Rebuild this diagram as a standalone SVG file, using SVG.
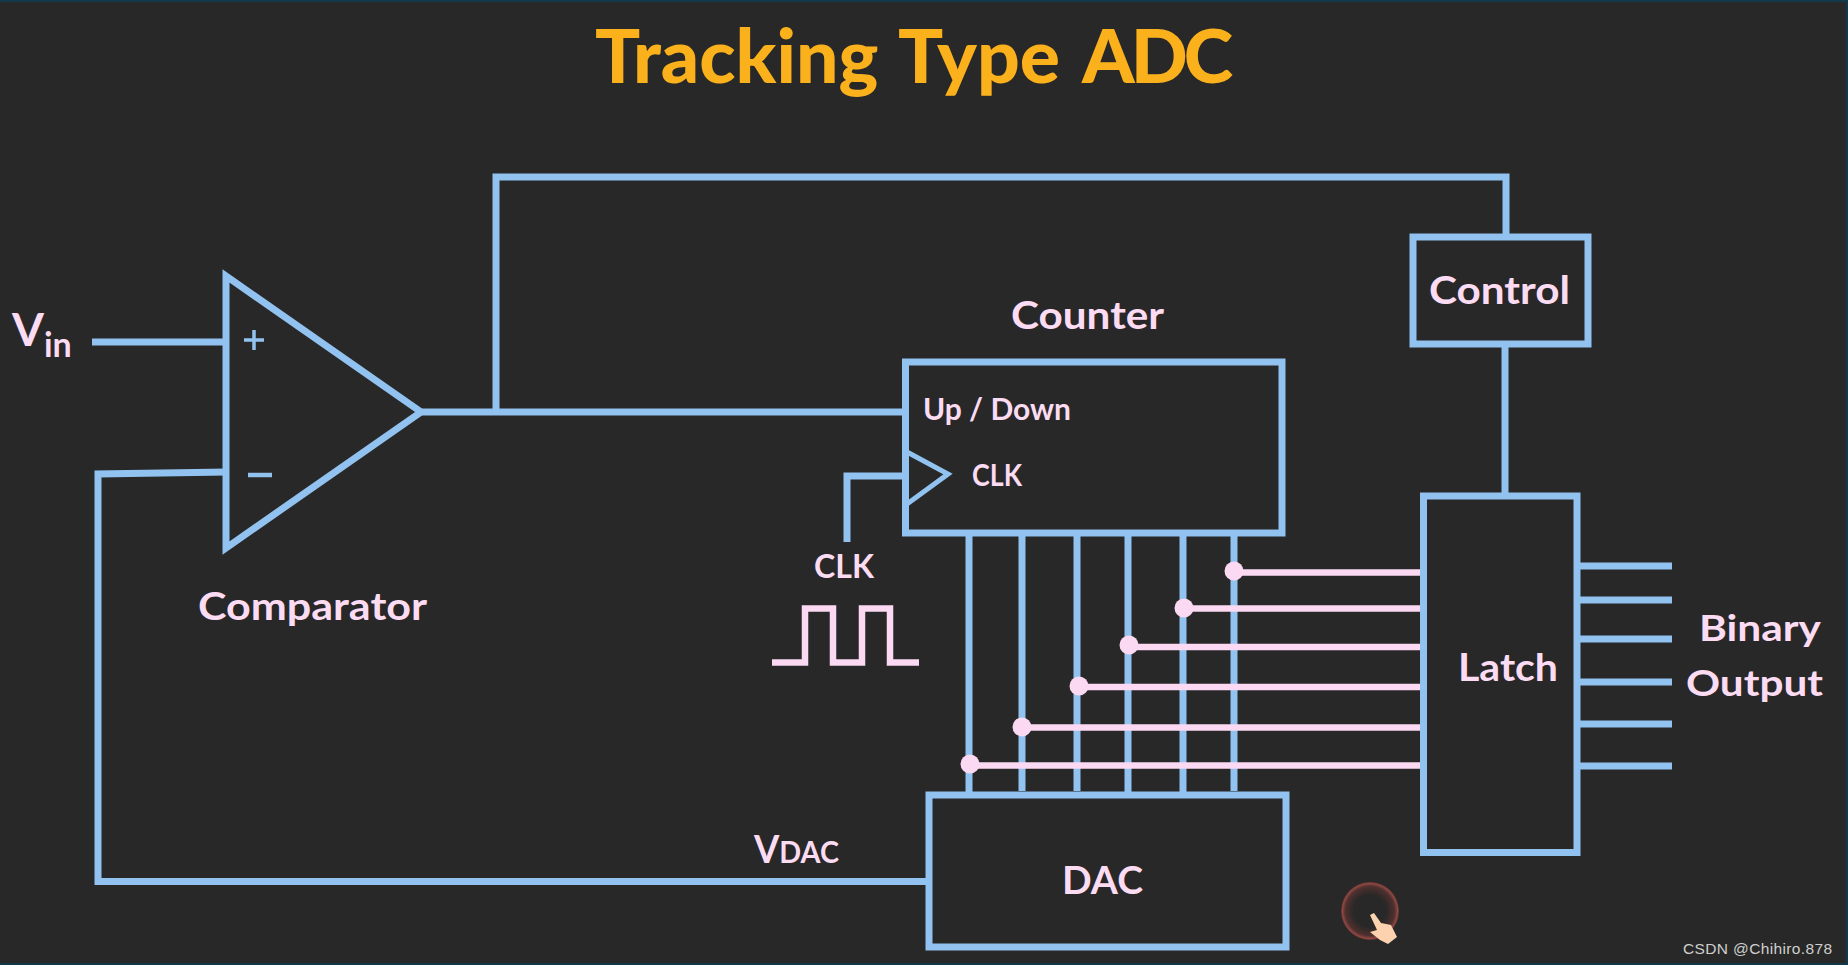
<svg xmlns="http://www.w3.org/2000/svg" width="1848" height="965" viewBox="0 0 1848 965">
<defs>
<radialGradient id="ring"><stop offset="0.55" stop-color="#a33a34" stop-opacity="0"/><stop offset="0.85" stop-color="#a8453e" stop-opacity="0.3"/><stop offset="0.95" stop-color="#a8504a" stop-opacity="0.8"/><stop offset="1" stop-color="#a8453e" stop-opacity="0.4"/></radialGradient>
</defs>
<style>
.w{fill:none;stroke:#92c2ef;stroke-width:7;stroke-linejoin:miter}
.t{fill:none;stroke:#92c2ef;stroke-width:5}
.p{fill:none;stroke:#fbd9f2;stroke-width:6.500}
.d{fill:#fbd9f2}
text{font-family:Lato,"Open Sans","Liberation Sans",sans-serif;font-weight:700;fill:#fbdcf2}
</style>
<rect width="1848" height="965" fill="#282828"/>
<path d="M0 1H1848M1847 0V965M0 964H1848" fill="none" stroke="#12394a" stroke-width="2"/>
<text id="title" y="83" font-size="75" style="fill:#fbb11c;font-weight:900"><tspan x="595">Tracking </tspan><tspan x="898">Type </tspan><tspan x="1082" letter-spacing="-4">ADC</tspan></text>
<g id="connectors">
<path class="w" d="M92 342H227"/>
<path class="w" d="M227 472L98 474V881.500H929"/>
<path class="w" d="M422 412H905"/>
<path class="w" d="M496 412V177H1506V237"/>
<path class="w" d="M1505 344V496"/>
<path class="w" d="M847 542V476H905"/>
<path class="w" d="M969 533V796M1022 533V791M1077 533V791M1128 533V796M1183 533V796M1234 533V791"/>
<path class="w" d="M1577 566H1672M1577 600H1672M1577 639H1672M1577 682H1672M1577 724H1672M1577 766H1672"/>
<path class="p" d="M1234 572.500H1423M1184 608.500H1423M1129 647H1423M1078 687H1423M1022 727.500H1423M970 765.500H1423"/>
<circle class="d" cx="1234" cy="571" r="9.500"/>
<circle class="d" cx="1184" cy="608" r="9.500"/>
<circle class="d" cx="1129" cy="645" r="9.500"/>
<circle class="d" cx="1079" cy="686" r="9.500"/>
<circle class="d" cx="1022" cy="727" r="9.500"/>
<circle class="d" cx="970" cy="764" r="9.500"/>
</g>
<g id="comparator">
<path class="w" d="M226 276V548L421 412Z"/>
<path d="M244 340H264M254 330V350" fill="none" stroke="#92c2ef" stroke-width="3.500"/>
<path d="M248 475H272" fill="none" stroke="#92c2ef" stroke-width="4.500"/>
<text x="198" y="620" font-size="38" textLength="229" lengthAdjust="spacingAndGlyphs">Comparator</text>
</g>
<g id="vin"><text x="12" y="346" font-size="46">V<tspan font-size="34" dy="11">in</tspan></text></g>
<g id="counter">
<rect class="w" x="905.500" y="362" width="376.500" height="171"/>
<path class="t" d="M907 452L948 474L907 504"/>
<text x="923" y="420" font-size="30" textLength="148" lengthAdjust="spacingAndGlyphs">Up / Down</text>
<text x="972" y="486" font-size="30" textLength="50" lengthAdjust="spacingAndGlyphs">CLK</text>
<text x="1011" y="329" font-size="38" textLength="153" lengthAdjust="spacingAndGlyphs">Counter</text>
</g>
<g id="clk">
<text x="814" y="578" font-size="33" textLength="60" lengthAdjust="spacingAndGlyphs">CLK</text>
<path class="p" d="M772 662.500H805V608.500H833V662.500H862V608.500H890V662.500H919"/>
</g>
<g id="control"><rect class="w" x="1413" y="237" width="175" height="107"/><text x="1429" y="304" font-size="39" textLength="141" lengthAdjust="spacingAndGlyphs">Control</text></g>
<g id="latch"><rect class="w" x="1423.500" y="496" width="153.500" height="356.500"/><text x="1458" y="681" font-size="38" textLength="100" lengthAdjust="spacingAndGlyphs">Latch</text></g>
<g id="dac"><rect class="w" x="929" y="795" width="357" height="152"/><text x="1062" y="894" font-size="39" textLength="81" lengthAdjust="spacingAndGlyphs">DAC</text></g>
<g id="vdac"><text x="754" y="863" font-size="38" textLength="85" lengthAdjust="spacingAndGlyphs">V<tspan font-size="30">DAC</tspan></text></g>
<g id="binary"><text x="1699" y="641" font-size="37" textLength="122" lengthAdjust="spacingAndGlyphs">Binary</text><text x="1686" y="696" font-size="37" textLength="137" lengthAdjust="spacingAndGlyphs">Output</text></g>
<g id="cursor">
<circle cx="1370" cy="911" r="29" fill="url(#ring)"/>
<path d="M1370 915L1374 913L1381 923L1391 925L1397 937L1388 944L1380 940L1370 932L1377 930Z" fill="#fcd3ae"/>
</g>
<text id="watermark" x="1683" y="954" font-size="15.500" style="font-family:'Liberation Sans',sans-serif;font-weight:400;fill:#cfcfcf" textLength="149">CSDN @Chihiro.878</text>
</svg>
